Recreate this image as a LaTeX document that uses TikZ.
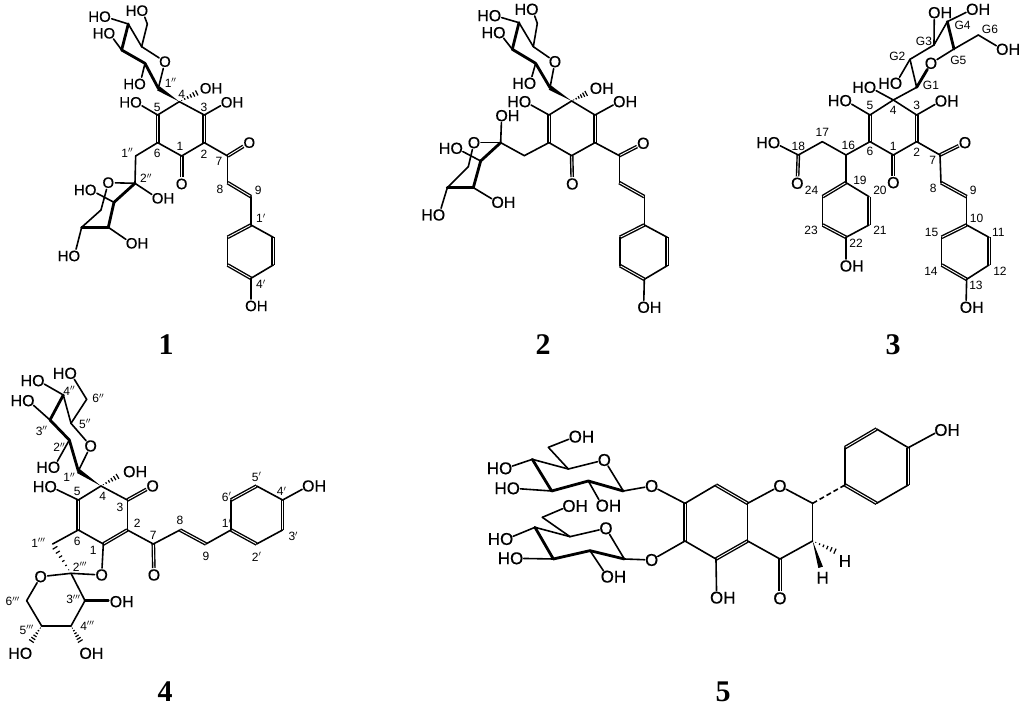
\documentclass[tikz,border=0pt]{standalone}
\usepackage{fontspec}
\setmainfont{Liberation Sans}
\newfontfamily\titlefont{Liberation Serif}
\newfontfamily\atomfont[FakeBold=0.35]{Liberation Sans}
\usetikzlibrary{calc}
\def\atomsz{16}
\tikzset {
  bond/.style = {line width=1.6pt, line cap=round, line join=round},
  heavy/.style = {line width=2.8pt, line cap=round},
  dbl/.style = {double, double distance=0.9pt, line width=1.4pt},
  dashbond/.style = {line width=1.6pt, dash pattern=on 5pt off 3pt},
  site/.style = {circle, inner sep=0, outer sep=0, minimum size=14pt},
  atom/.style = {inner sep=0, font=\atomfont\fontsize{\atomsz}{\atomsz}\selectfont},
  num/.style = {inner sep=0, font=\fontsize{12}{12}\selectfont},
  title/.style = {inner sep=0, font=\titlefont\bfseries\fontsize{30}{30}\selectfont},
  zoomed/.style 2 args = {shift={(#1,#2)}, x=0.3333pt, y=-0.3333pt}
}
\newcommand{\points}[1]{\foreach \n/\px/\py in {#1} \coordinate (\n) at (\px,\py);}
\newcommand{\sites}[3]{\foreach \n/\px/\py in {#3} {
    \node[site] (\n) at (\px,\py) {};
    \node[atom, xshift={#2*\atomsz pt}] (\n t) at (\n) {#1};}}
\newcommand{\bonds}[2]{\foreach \p/\q in {#2} \draw[#1] (\p) -- (\q);}
\newcommand{\nums}[2]{\foreach \lab/\px/\py [count=\i] in {#2} \node[num] (#1\i) at (\px,\py) {\lab};}
\newcommand{\wedgebond}[2]{\fill (#1) -- ($(#2)!2.4pt!90:(#1)$) -- ($(#2)!2.4pt!-90:(#1)$) -- cycle;}
\newcommand{\hashbond}[2]{\foreach \hp in {0.12,0.27,...,1.0} {
    \pgfmathsetmacro{\hw}{\hp*3.2}
    \draw[line width=1.2pt] ($(#1)!\hp!(#2)!\hw pt!90:(#2)$) -- ($(#1)!\hp!(#2)!\hw pt!-90:(#2)$);}}
\begin{document}
\begin{tikzpicture}[x=1pt, y=-1pt]
    \useasboundingbox (0,0) rectangle (1024,707);

    \node[title] (t1) at (166,345) {1};
    \node[title] (t2) at (543,345) {2};
    \node[title] (t3) at (893,345) {3};
    \node[title] (t4) at (165,692) {4};
    \node[title] (t5) at (723,692) {5};

    % compound 1
    \begin{scope}[zoomed={40}{0}]
    \def\atomsz{15}
    \points{ac1/425/468, ac2/493/428, ac3/493/345, ac4/418/305, ac5/353/345, ac6/353/428, ac7/563/468, ac8/563/548, ac9/633/590,
      ap1/633/675, ap2/700/712, ap3/700/795, ap4/633/835, ap5/563/795, ap6/563/712,
      ag1/355/265, ag2/315/190, ag3/245/150, ag4/265/72, ag5/305/140, ag6/322/72,
      am1/287/468, am2/285/550, aq3/222/607, aq4/205/682, aq5/125/682, aq6/183/630, ah4/478/275}
    \sites{O}{0}{ao1/425/552, ao7/628/428, aog/375/185, aoq/205/548}
    \sites{OH}{0.36}{a3h/560/307, am2h/353/595, aq4h/275/730, aph/633/918, a4h/497/265}
    \sites{HO}{-0.36}{a5h/288/307, ag2h/300/252, ag3h/208/100, ag4h/195/50, ag6h/307/32, aq3h/152/570, aq5h/103/768}
    \bonds{dbl}{ac5/ac6, ac2/ac3, ac1/ao1, ac7/ao7, ac8/ac9, ap1/ap6, ap2/ap3, ap4/ap5}
    \bonds{bond}{ac1/ac2, ac3/ac4, ac4/ac5, ac6/ac1, ac2/ac7, ac7/ac8, ac9/ap1, ap1/ap2, ap3/ap4, ap5/ap6, ap4/aph, ac3/a3h, ac5/a5h,
      ag1/aog, aog/ag5, ag5/ag4, ag5/ag6, ag6/ag6h, ag4/ag4h, ag3/ag3h, ag2/ag2h,
      ac6/am1, am1/am2, am2/am2h, am2/aoq, aoq/aq6, aq6/aq5, aq5/aq5h, aq4/aq4h, aq3/aq3h}
    \bonds{heavy}{ag4/ag3, ag3/ag2, ag2/ag1, am2/aq3, aq3/aq4, aq4/aq5}
    \wedgebond{ac4}{ag1}
    \hashbond{ac4}{ah4}
    \nums{an}{5/352/322, 3/492/322, 4/425/282, 1$''$/392/248, 1/420/440, 6/352/460, 2/492/462, 7/537/483, 8/540/567, 9/655/572,
      1$'$/663/655, 4$'$/663/852, 1$''$/262/458, 2$''$/318/535}
    \end{scope}

    % compound 2
    \begin{scope}[zoomed={400}{0}]
    \points{bc1/515/467, bc2/585/428, bc3/585/345, bc4/515/303, bc5/447/345, bc6/447/428, bc7/658/467, bc8/658/548, bc9/733/590,
      bp1/733/675, bp2/802/712, bp3/802/797, bp4/733/838, bp5/660/797, bp6/660/712,
      bg1/450/263, bg2/407/190, bg3/337/148, bg4/357/68, bg5/400/140, bg6/412/70,
      bm1/373/467, bm2/302/428, bq3/242/483, bq4/220/563, bq5/142/563, bq6/205/500, bh4/565/277}
    \sites{O}{0}{bo1/517/552, bo7/730/430, bog/465/185, boq/222/428}
    \sites{OH}{0.36}{b3h/658/305, b4h/588/265, bm2h/305/347, bq4h/293/607, bph/731/922}
    \sites{HO}{-0.36}{b5h/375/305, bg2h/390/250, bg3h/298/98, bg4h/285/47, bg6h/397/28, bq3h/170/445, bq5h/117/645}
    \bonds{dbl}{bc5/bc6, bc2/bc3, bc1/bo1, bc7/bo7, bc8/bc9, bp1/bp6, bp2/bp3, bp4/bp5}
    \bonds{bond}{bc1/bc2, bc3/bc4, bc4/bc5, bc6/bc1, bc2/bc7, bc7/bc8, bc9/bp1, bp1/bp2, bp3/bp4, bp5/bp6, bp4/bph, bc3/b3h, bc5/b5h,
      bg1/bog, bog/bg5, bg5/bg4, bg5/bg6, bg6/bg6h, bg4/bg4h, bg3/bg3h, bg2/bg2h,
      bc6/bm1, bm1/bm2, bm2/bm2h, bm2/boq, boq/bq6, bq6/bq5, bq5/bq5h, bq4/bq4h, bq3/bq3h}
    \bonds{heavy}{bg4/bg3, bg3/bg2, bg2/bg1, bm2/bq3, bq3/bq4, bq4/bq5}
    \wedgebond{bc4}{bg1}
    \hashbond{bc4}{bh4}
    \end{scope}

    % compound 3
    \begin{scope}[zoomed={740}{0}]
    \points{cc1/460/465, cc2/530/425, cc3/530/345, cc4/460/300, cc5/390/345, cc6/390/425, cc7/600/465, cc8/603/548, cc9/680/590,
      cp1/680/675, cp2/747/712, cp3/747/795, cp4/680/838, cp5/605/795, cp6/605/712,
      cg1/530/262, cg2/510/178, cg3/582/135, cg4/622/65, cg5/642/147, cg6/715/105,
      cc16/318/465, cc17/247/425, cc18/175/465, cr19/318/548, cr20/387/590, cr21/387/675, cr22/318/712, cr23/248/675, cr24/248/590}
    \sites{O}{0}{co1/460/548, co7/675/428, cog/573/190, co18/172/550}
    \sites{OH}{0.36}{c3h/603/303, cg3h/583/38, cg4h/697/28, cg6h/787/148, cph/678/922, crh/318/798}
    \sites{HO}{-0.36}{c5h/317/302, c4h/390/262, cg2h/468/250, c18h/102/428}
    \bonds{dbl}{cc5/cc6, cc2/cc3, cc1/co1, cc7/co7, cc8/cc9, cp1/cp6, cp2/cp3, cp4/cp5, cc18/co18, cr19/cr24, cr20/cr21, cr22/cr23}
    \bonds{bond}{cc1/cc2, cc3/cc4, cc4/cc5, cc6/cc1, cc2/cc7, cc7/cc8, cc9/cp1, cp1/cp2, cp3/cp4, cp5/cp6, cp4/cph, cc3/c3h, cc5/c5h,
      cc4/c4h, cc4/cg1, cog/cg5, cg5/cg6, cg6/cg6h, cg4/cg3, cg3/cg2, cg2/cg1, cg2/cg2h, cg3/cg3h, cg4/cg4h,
      cc6/cc16, cc16/cc17, cc17/cc18, cc18/c18h, cc16/cr19, cr19/cr20, cr21/cr22, cr23/cr24, cr22/crh}
    \bonds{heavy}{cg5/cg4, cg1/cog}
    \nums{cn}{G1/573/257, G2/472/170, G3/552/125, G4/668/77, G5/655/182, G6/750/87, 5/390/315, 3/530/315, 4/460/330, 1/460/440, 6/390/455, 2/530/458,
      7/578/482, 8/580/565, 9/700/570, 10/710/655, 11/775/697, 12/780/813, 13/708/855, 14/573/813, 15/575/697,
      16/325/437, 17/247/398, 18/175/440, 19/360/540, 20/420/572, 21/420/690, 22/348/730, 23/213/690, 24/215/572}
    \end{scope}

    % compound 4
    \begin{scope}[zoomed={0}{360}]
    \points{dc1/310/552, dc2/382/510, dc3/382/420, dc4/303/378, dc5/235/420, dc6/235/510, dc7/460/552, dc8/540/510, dc9/618/552,
      dp1/693/510, dp2/770/552, dp3/848/510, dp4/848/420, dp5/770/378, dp6/693/420,
      dg1/235/333, dg2/208/240, dg3/150/180, dg4/190/105, dg5/213/190, dg6/260/118,
      dm1/158/552, dm2/213/640, dm3/255/722, dm4/213/798, dm5/125/798, dm6/80/722, dh4/360/345, dh3/325/722, dh44/245/850, dh5/90/850}
    \sites{O}{0}{do3/458/378, do7/462/645, dog/272/258, dox/305/645, doy/122/650}
    \sites{OH}{0.36}{d4h/388/335, dm3h/348/725, dm4h/257/880, dph/925/378}
    \sites{HO}{-0.36}{d5h/152/380, dg2h/162/322, dg3h/85/122, dg4h/115/62, dg6h/212/40, dm5h/78/880}
    \bonds{dbl}{dc5/dc6, dc1/dc2, dc3/do3, dc7/do7, dc8/dc9, dp1/dp2, dp3/dp4, dp5/dp6}
    \bonds{bond}{dc2/dc3, dc3/dc4, dc4/dc5, dc6/dc1, dc2/dc7, dc7/dc8, dc9/dp1, dp2/dp3, dp4/dp5, dp6/dp1, dp4/dph, dc5/d5h,
      dg1/dog, dog/dg5, dg5/dg4, dg5/dg6, dg6/dg6h, dg4/dg4h, dg3/dg3h, dg2/dg2h,
      dc6/dm1, dc1/dox, dox/dm2, dm2/doy, doy/dm6, dm6/dm5, dm5/dm4, dm4/dm3, dm3/dm2}
    \bonds{heavy}{dg4/dg3, dg3/dg2, dg2/dg1, dm3/dh3}
    \wedgebond{dc4}{dg1}
    \hashbond{dc4}{dh4}
    \hashbond{dm2}{dm1}
    \hashbond{dm4}{dh44}
    \hashbond{dm5}{dh5}
    \nums{dn}{1$'$/680/490, 2$'$/770/590, 3$'$/880/530, 4$'$/845/393, 5$'$/770/350, 6$'$/680/410, 9/618/590, 8/540/482, 7/460/525, 2/412/490, 3/360/442, 4/308/410, 5/232/395, 6/232/545, 1/280/572,
      1$''$/208/352, 2$''$/178/262, 3$''$/125/212, 4$''$/208/92, 5$''$/255/192, 6$''$/295/115,
      1$'''$/115/548, 2$'''$/240/620, 3$'''$/220/718, 4$'''$/262/797, 5$'''$/80/810, 6$'''$/38/725}
    \end{scope}

    % compound 5
    \begin{scope}[zoomed={470}{410}]
    \def\atomsz{17}
    \points{ea1/738/225, ea2/833/280, ea3/833/393, ea4/738/447, ea5/645/393, ea6/645/280, ec2/1028/280, ec3/1028/393, ec4/930/447,
      ep1/1125/225, ep2/1125/113, ep3/1220/57, ep4/1315/113, ep5/1315/225, ep6/1220/280,
      eg1/460/243, eg2/355/213, eg3/245/243, eg4/187/148, eg5/295/177, eg6/235/112,
      ef1/463/447, ef2/360/422, ef3/250/447, ef4/195/352, ef5/300/380, ef6/217/322, ehb/1105/428, ehc/1052/472}
    \sites{O}{0}{eoa/930/228, eox/545/228, eoy/545/450, eog/403/150, eof/408/355, eo4/930/565}
    \sites{OH}{0.36}{ea4h/740/563, eg6h/316/80, eg2h/397/287, ef6h/297/288, ef2h/412/500, eph/1413/60}
    \sites{HO}{-0.36}{eg4h/107/175, eg3h/130/235, ef4h/110/387, ef3h/140/445}
    \node[atom] (eh1) at (1125,453) {H};
    \node[atom] (eh2) at (1058,503) {H};
    \bonds{dbl}{ea1/ea2, ea3/ea4, ea5/ea6, ec4/eo4, ep1/ep6, ep2/ep3, ep4/ep5}
    \bonds{bond}{ea1/ea6, ea2/ea3, ea4/ea5, ea2/eoa, eoa/ec2, ec2/ec3, ec3/ec4, ec4/ea3, ea6/eox, ea5/eoy, eox/eg1, eoy/ef1, ea4/ea4h,
      ep1/ep2, ep3/ep4, ep5/ep6, ep4/eph,
      eg1/eog, eog/eg5, eg5/eg4, eg5/eg6, eg6/eg6h, eg4/eg4h, eg3/eg3h, eg2/eg2h,
      ef1/eof, eof/ef5, ef5/ef4, ef5/ef6, ef6/ef6h, ef4/ef4h, ef3/ef3h, ef2/ef2h}
    \bonds{heavy}{eg4/eg3, eg3/eg2, eg2/eg1, ef4/ef3, ef3/ef2, ef2/ef1}
    \bonds{dashbond}{ec2/ep1}
    \wedgebond{ec3}{ehc}
    \hashbond{ec3}{ehb}
    \end{scope}
\end{tikzpicture}
\end{document}
